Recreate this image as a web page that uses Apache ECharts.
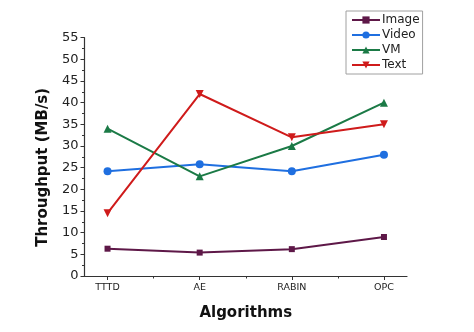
<!DOCTYPE html>
<html><head><meta charset="utf-8">
<script src="https://cdn.jsdelivr.net/npm/echarts@6/dist/echarts.min.js"></script>
<style>html,body{margin:0;padding:0;background:#fff}#c{width:474px;height:332px}</style>
</head><body><div id="c"></div>
<script>
var categories = ['TTTD', 'AE', 'RABIN', 'OPC'];
var imageVals = [6.3, 5.4, 6.2, 9.0];
var videoVals = [24.2, 25.8, 24.2, 28.0];
var vmVals = [34.0, 23.0, 30.0, 40.0];
var textVals = [14.5, 42.0, 32.0, 35.0];
var yTicks = [0, 5, 10, 15, 20, 25, 30, 35, 40, 45, 50, 55];

var catIdx = categories.map(function (c, i) { return i; });
var midIdx = categories.slice(1).map(function (c, i) { return i + 0.5; });
function pts(vals) { return vals.map(function (v, i) { return [i, v]; }); }
var font = 'DejaVu Sans';

var chart = echarts.init(document.getElementById('c'));
chart.setOption({
  animation: false,
  grid: { left: 84.5, right: 67, top: 37.7, bottom: 56, containLabel: false },
  legend: {
    orient: 'vertical', left: 346, top: 11,
    borderColor: '#a0a0a0', borderWidth: 1,
    padding: [3, 3, 3, 5], itemGap: 3,
    itemWidth: 28, itemHeight: 9,
    textStyle: { fontFamily: font, fontSize: 12, color: '#222', padding: [0, 0, 0, -3] },
    data: ['Image', 'Video', 'VM', 'Text']
  },
  xAxis: [{
    type: 'value', min: -0.25, max: 3.25,
    name: 'Algorithms', nameLocation: 'middle', nameGap: 30,
    nameTextStyle: { fontFamily: font, fontSize: 15, fontWeight: 'bold', color: '#111' },
    axisLine: { show: true, onZero: false, lineStyle: { color: '#333', width: 1.2 } },
    axisTick: { show: true, length: 4, customValues: catIdx, lineStyle: { color: '#333' } },
    axisLabel: { customValues: catIdx, margin: 7, fontFamily: font, fontSize: 9.5, color: '#222',
      formatter: function (v) { return categories[Math.round(v)]; } },
    splitLine: { show: false }
  }, {
    type: 'value', min: -0.25, max: 3.25, position: 'bottom',
    axisLine: { show: false, onZero: false },
    axisTick: { show: true, length: 2.5, customValues: midIdx, lineStyle: { color: '#333' } },
    axisLabel: { show: false },
    splitLine: { show: false }
  }],
  yAxis: {
    type: 'value', min: yTicks[0], max: yTicks[yTicks.length - 1], interval: 5,
    name: 'Throughput (MB/s)', nameLocation: 'middle', nameGap: 34,
    nameTextStyle: { fontFamily: font, fontSize: 15, fontWeight: 'bold', color: '#111', padding: [0, 21, 0, 0] },
    axisLine: { show: true, onZero: false, lineStyle: { color: '#333', width: 1.2 } },
    axisTick: { show: true, length: 4, lineStyle: { color: '#333' } },
    minorTick: { show: true, splitNumber: 2, length: 2.5, lineStyle: { color: '#333' } },
    axisLabel: { margin: 6, fontFamily: font, fontSize: 13, color: '#222' },
    splitLine: { show: false }
  },
  series: [
    { name: 'Image', type: 'line', data: pts(imageVals), symbol: 'rect', symbolSize: 6,
      itemStyle: { color: '#5e1848' }, lineStyle: { width: 2 } },
    { name: 'Video', type: 'line', data: pts(videoVals), symbol: 'circle', symbolSize: 8,
      itemStyle: { color: '#1f6fe0' }, lineStyle: { width: 2 } },
    { name: 'VM', type: 'line', data: pts(vmVals), symbol: 'triangle', symbolSize: 8,
      itemStyle: { color: '#1b7a46' }, lineStyle: { width: 2 } },
    { name: 'Text', type: 'line', data: pts(textVals), symbol: 'triangle', symbolRotate: 180, symbolSize: 8,
      itemStyle: { color: '#cf1b1b' }, lineStyle: { width: 2 } }
  ]
});
</script></body></html>
